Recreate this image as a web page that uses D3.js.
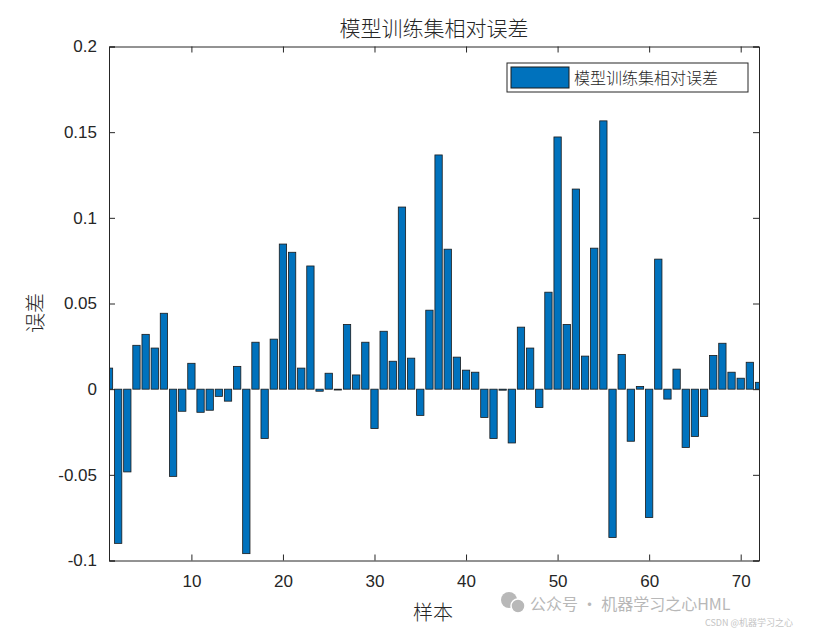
<!DOCTYPE html>
<html>
<head>
<meta charset="utf-8">
<script src="https://cdn.jsdelivr.net/npm/d3@7"></script>
<style>
  body { margin: 0; background: #fff; }
  #chart { width: 840px; height: 630px; }
</style>
</head>
<body>
<div id="chart"></div>
<script>
// relative error per sample
const errors = [
  0.0123, -0.0900, -0.0483, 0.0256, 0.0320, 0.0240, 0.0443, -0.0509, -0.0129, 0.0151,
  -0.0135, -0.0123, -0.0042, -0.0070, 0.0133, -0.0960, 0.0274, -0.0288, 0.0292, 0.0847,
  0.0799, 0.0123, 0.0719, -0.0012, 0.0093, -0.0005, 0.0378, 0.0083, 0.0274, -0.0230,
  0.0338, 0.0163, 0.1063, 0.0181, -0.0153, 0.0461, 0.1367, 0.0817, 0.0187, 0.0111,
  0.0099, -0.0165, -0.0288, -0.0006, -0.0314, 0.0362, 0.0240, -0.0107, 0.0566, 0.1472,
  0.0378, 0.1168, 0.0193, 0.0823, 0.1566, -0.0866, 0.0203, -0.0304, 0.0016, -0.0749,
  0.0759, -0.0058, 0.0117, -0.0340, -0.0276, -0.0159, 0.0197, 0.0268, 0.0099, 0.0064,
  0.0157, 0.0040
];
const samples = errors.map((d, i) => i + 1);
const xTicks = [10, 20, 30, 40, 50, 60, 70];
const yTicks = [-0.1, -0.05, 0, 0.05, 0.1, 0.15, 0.2];
const yTickLabels = ["-0.1", "-0.05", "0", "0.05", "0.1", "0.15", "0.2"];
const titleText = "模型训练集相对误差";
const legendText = "模型训练集相对误差";

const W = 840, H = 630;
const margin = {top: 46.5, right: 81, bottom: 69.5, left: 109};
const width = W - margin.left - margin.right;
const height = H - margin.top - margin.bottom;

const svg = d3.select("#chart").append("svg")
    .attr("width", W)
    .attr("height", H)
    .style("font-family", "'Liberation Sans', Arial, sans-serif");

const g = svg.append("g")
    .attr("transform", `translate(${margin.left},${margin.top})`);

const x = d3.scaleLinear().domain([1, 72]).range([0, width]);
const y = d3.scaleLinear().domain([-0.1, 0.2]).range([height, 0]);
const barW = x(1.8) - x(1);

// clip so the half bars at both ends are cut like in MATLAB
g.append("clipPath").attr("id", "plotclip")
  .append("rect").attr("width", width).attr("height", height);

g.append("g")
    .attr("clip-path", "url(#plotclip)")
  .selectAll("rect")
  .data(errors)
  .join("rect")
    .attr("x", (d, i) => x(samples[i]) - barW / 2)
    .attr("y", d => y(Math.max(0, d)))
    .attr("width", barW)
    .attr("height", d => Math.abs(y(d) - y(0)))
    .attr("fill", "#0072BD")
    .attr("stroke", "#1a1a1a")
    .attr("stroke-width", 0.8);

// axes, ticks point inward, box on
const tickLen = 6;
const fmt = d => yTickLabels[yTicks.indexOf(d)];

g.append("g")
    .attr("transform", `translate(0,${height})`)
    .call(d3.axisBottom(x).tickValues(xTicks).tickSize(-tickLen).tickPadding(14));
g.append("g")
    .call(d3.axisTop(x).tickValues(xTicks).tickSize(-tickLen).tickFormat(""));
g.append("g")
    .call(d3.axisLeft(y).tickValues(yTicks).tickSize(-tickLen).tickPadding(12).tickFormat(fmt));
g.append("g")
    .attr("transform", `translate(${width},0)`)
    .call(d3.axisRight(y).tickValues(yTicks).tickSize(-tickLen).tickFormat(""));

svg.selectAll(".domain, .tick line")
    .attr("stroke", "#262626")
    .attr("stroke-width", 1);
svg.selectAll(".tick text")
    .attr("fill", "#262626")
    .style("font-size", "17px");

// title
svg.append("text")
    .attr("x", margin.left + width / 2)
    .attr("y", 36)
    .attr("text-anchor", "middle")
    .style("font-family", "'Noto Sans CJK SC', sans-serif")
    .style("font-size", "21px")
    .style("font-weight", 300)
    .attr("fill", "#262626")
    .text(titleText);

// axis labels
svg.append("text")
    .attr("x", margin.left + width / 2 - 1)
    .attr("y", 620)
    .attr("text-anchor", "middle")
    .style("font-family", "'Noto Sans CJK SC', sans-serif")
    .style("font-size", "20px")
    .style("font-weight", 300)
    .attr("fill", "#262626")
    .text("样本");

svg.append("text")
    .attr("transform", `translate(43,313) rotate(-90)`)
    .attr("text-anchor", "middle")
    .style("font-family", "'Noto Sans CJK SC', sans-serif")
    .style("font-size", "20px")
    .style("font-weight", 300)
    .attr("fill", "#262626")
    .text("误差");

// legend
const lg = svg.append("g").attr("transform", "translate(507,63)");
lg.append("rect")
    .attr("width", 241).attr("height", 29)
    .attr("fill", "#fff").attr("stroke", "#262626").attr("stroke-width", 1);
lg.append("rect")
    .attr("x", 4).attr("y", 4).attr("width", 58).attr("height", 21)
    .attr("fill", "#0072BD").attr("stroke", "#1a1a1a").attr("stroke-width", 1);
lg.append("text")
    .attr("x", 67).attr("y", 21)
    .style("font-family", "'Noto Sans CJK SC', sans-serif")
    .style("font-size", "16px")
    .style("font-weight", 300)
    .attr("fill", "#262626")
    .text(legendText);

// watermark (wechat icon + text)
const wm = svg.append("g").attr("fill", "#b8b8b8");
wm.append("circle").attr("cx", 509).attr("cy", 600).attr("r", 8);
wm.append("circle").attr("cx", 518).attr("cy", 606).attr("r", 7).attr("stroke", "#fff").attr("stroke-width", 1.5);
wm.append("text")
    .attr("x", 530).attr("y", 610)
    .style("font-family", "'Noto Sans CJK SC', sans-serif")
    .style("font-size", "16px")
    .text("公众号 · 机器学习之心HML");
svg.append("text")
    .attr("x", 705).attr("y", 626)
    .style("font-family", "'Noto Sans CJK SC', sans-serif")
    .style("font-size", "9px")
    .attr("fill", "#c4c4c4")
    .text("CSDN @机器学习之心");
</script>
</body>
</html>
